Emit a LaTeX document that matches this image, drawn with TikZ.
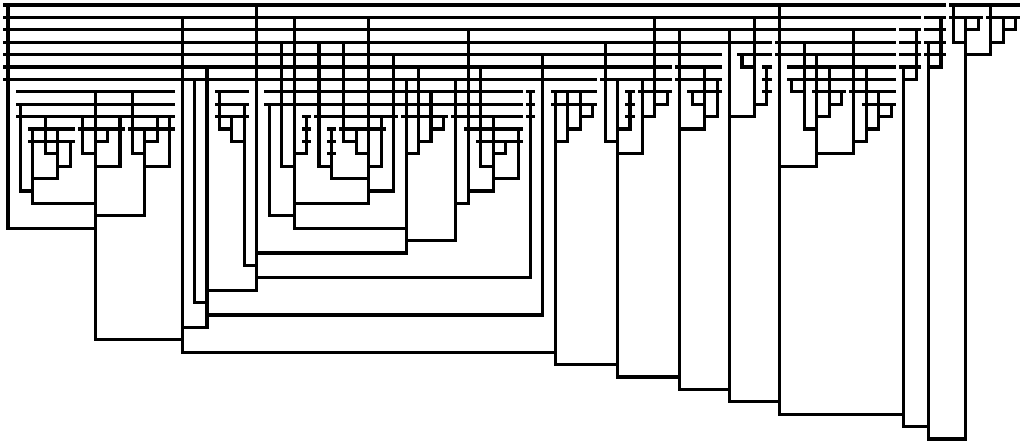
\documentclass[tikz,border=0pt]{standalone}
\usepackage{tikz}
\begin{document}
\begin{tikzpicture}[x=0.2488cm,y=-0.248cm]
    \tikzset{
      bar/.style={draw=black, line width=0.062cm, line cap=rect},
      wire/.style={draw=black, line width=0.062cm, line cap=rect}
    }
    \useasboundingbox (0.357,-0.403) rectangle (82.67,35.48);

    % Bars: row/first column/last column, drawn with short overhangs
    \foreach \r/\a/\b in {0/1/76, 0/77/82,
        1/1/74, 1/75/76, 1/77/79, 1/80/82,
        2/1/72, 2/73/74, 2/75/76,
        3/1/62, 3/63/72, 3/73/74, 3/75/76,
        4/1/58, 4/60/62, 4/63/72, 4/73/74, 4/75/76,
        5/1/54, 5/55/58, 5/62/62, 5/64/72, 5/73/74,
        6/1/48, 6/49/54, 6/55/58, 6/62/62, 6/64/72,
        7/2/14, 7/18/20, 7/22/42, 7/43/43, 7/45/48, 7/51/51, 7/52/54, 7/56/58, 7/62/62, 7/66/68, 7/69/72,
        8/2/14, 8/18/20, 8/22/42, 8/43/43, 8/45/48, 8/51/51, 8/70/72,
        9/2/14, 9/18/20, 9/25/25, 9/26/32, 9/33/36, 9/37/42, 9/43/43, 9/51/51,
        10/3/6, 10/7/10, 10/11/14, 10/25/25, 10/27/27, 10/28/31, 10/38/42,
        11/3/6, 11/25/25, 11/27/27, 11/39/42,
        12/27/27} {
      \draw[bar] (\a-0.26,\r) -- (\b+0.26,\r);
    }

    % Uprights: column/top row/bottom row
    \foreach \c/\t/\b in {1/0/18, 2/8/15, 3/10/16, 4/9/12, 5/10/14, 6/11/13, 7/9/12,
        8/7/27, 9/10/11, 10/9/13, 11/7/12, 12/10/17, 13/9/11, 14/9/13,
        15/1/28, 16/6/24, 17/5/26, 18/7/10, 19/9/11, 20/8/21, 21/0/23,
        22/8/17, 23/3/13, 24/1/18, 25/9/12, 26/3/13, 27/10/14, 28/3/11, 29/10/12,
        30/1/16, 31/9/13, 32/4/15, 33/6/20, 34/5/12, 35/7/11, 36/9/10, 37/6/19,
        38/2/16, 39/5/13, 40/9/15, 41/11/12, 42/10/14, 43/7/22, 44/4/25,
        45/7/29, 46/7/11, 47/7/10, 48/8/9, 49/3/11, 50/6/30, 51/7/10, 52/6/12,
        53/1/9, 54/7/8, 55/2/31, 56/7/8, 57/5/10, 58/6/9, 59/2/32, 60/4/5,
        61/1/9, 62/5/8, 63/0/33, 64/6/7, 65/3/10, 66/4/13, 67/5/9, 68/7/8,
        69/2/12, 70/5/11, 71/7/10, 72/8/9, 73/5/34, 74/2/6, 75/3/35, 76/1/5,
        77/0/3, 78/1/35, 79/1/2, 80/0/4, 81/1/3, 82/1/2} {
      \draw[wire] (\c,\t) -- (\c,\b);
    }

    % Links: row/left column/right column
    \foreach \r/\a/\b in {18/1/8, 15/2/3, 16/3/8, 14/3/5, 12/4/5, 13/5/6, 12/7/8,
        11/8/9, 13/8/10, 17/8/12, 27/8/15, 12/11/12, 11/12/13, 13/12/14,
        28/15/45, 26/15/17, 24/16/17, 25/17/44, 23/17/21, 10/18/19, 11/19/20,
        21/20/21, 20/21/33, 22/21/43,
        17/22/24, 13/23/24, 12/24/25, 16/24/30, 18/24/33, 13/26/27, 14/27/30,
        11/28/29, 12/29/30, 13/30/31, 15/30/32, 12/33/34, 19/33/37, 11/34/35,
        10/35/36, 16/37/38, 15/38/40, 13/39/40, 12/40/41, 14/40/42,
        11/45/46, 10/46/47, 9/47/48, 29/45/50, 11/49/50, 10/50/51, 12/50/52,
        30/50/55, 9/52/53, 8/53/54,
        10/55/57, 8/56/57, 9/57/58, 31/55/59, 9/59/61, 5/60/61, 8/61/62, 32/59/63,
        13/63/66, 7/64/65, 10/65/66, 9/66/67, 8/67/68, 12/66/69, 11/69/70,
        10/70/71, 9/71/72, 33/63/73,
        6/73/74, 34/73/75, 5/75/76, 35/75/78, 3/77/78, 2/78/79, 4/78/80,
        3/80/81, 2/81/82} {
      \draw[wire] (\a,\r) -- (\b,\r);
    }
\end{tikzpicture}
\end{document}
